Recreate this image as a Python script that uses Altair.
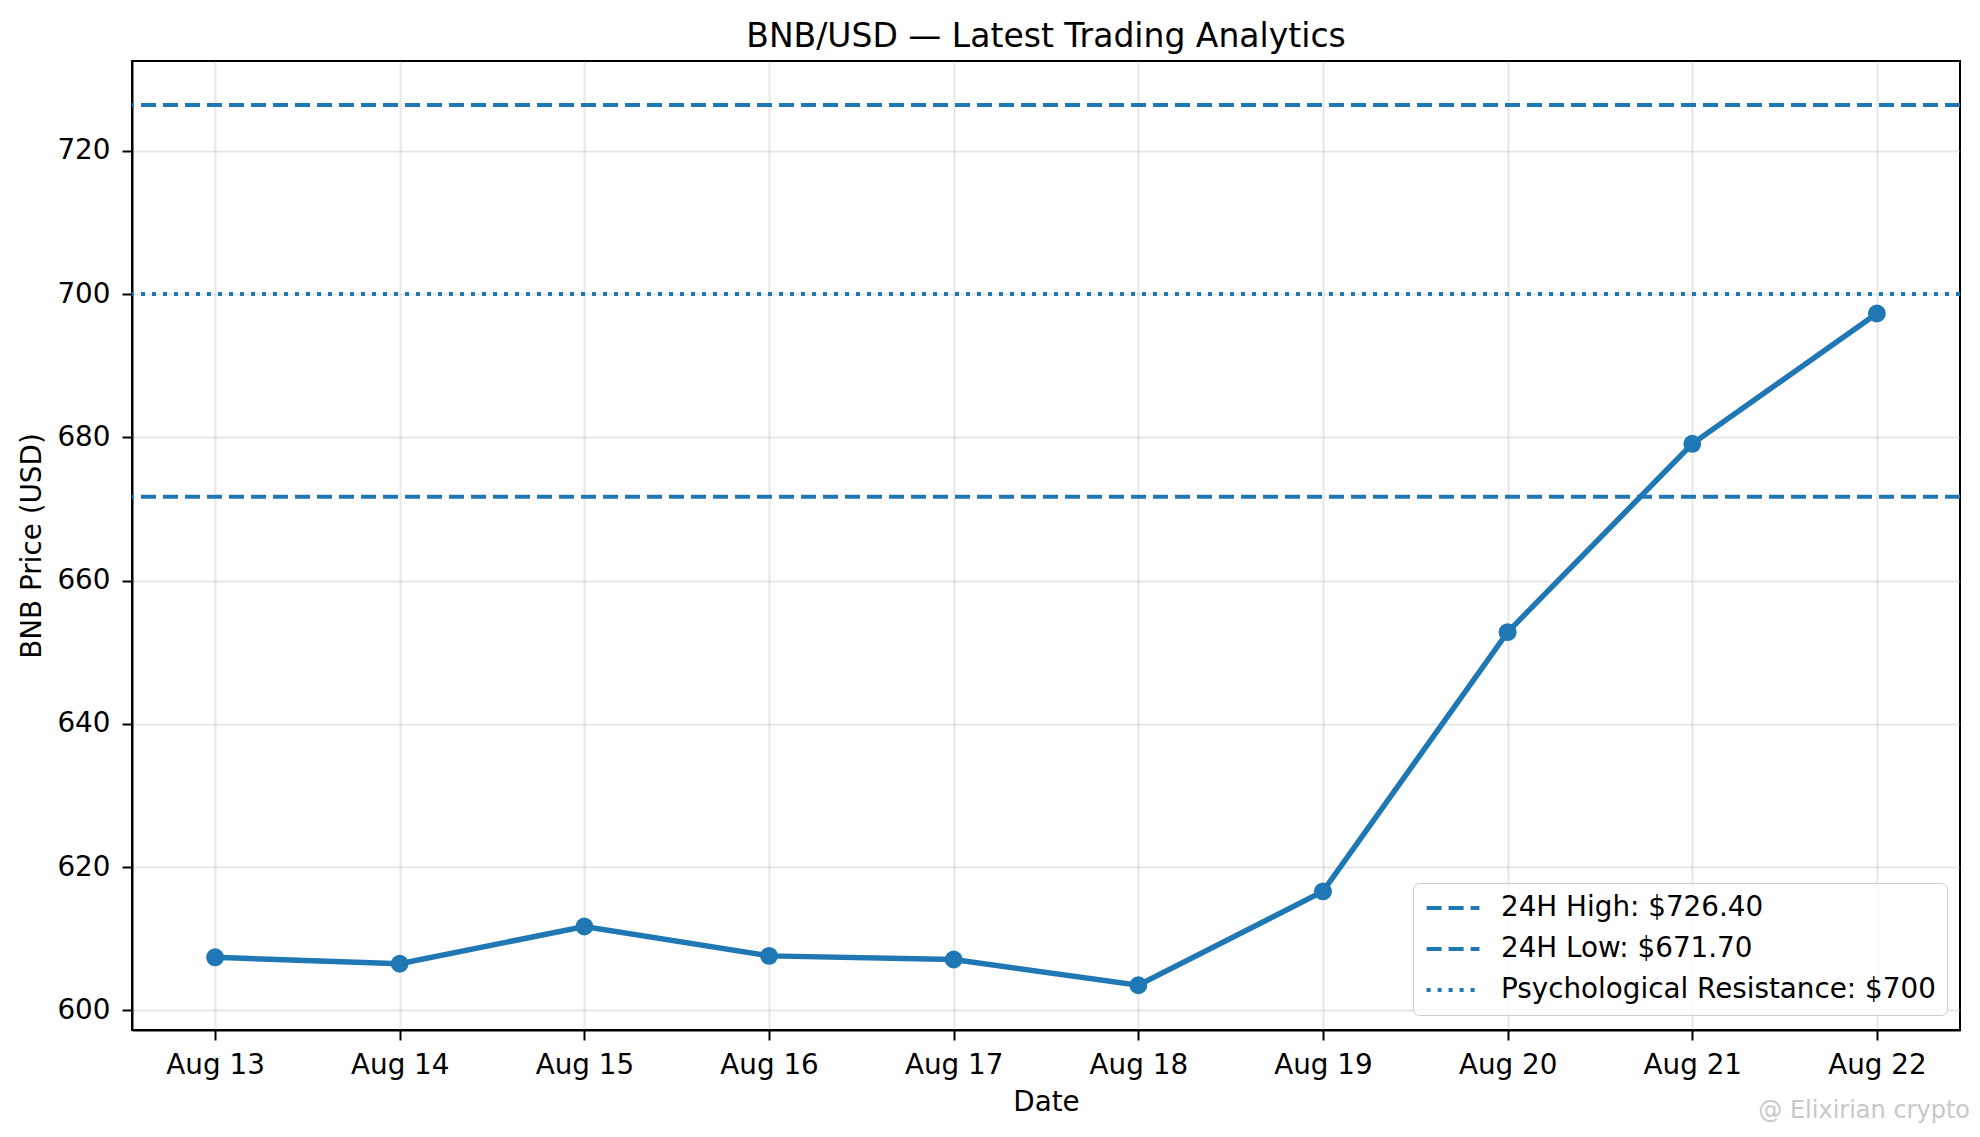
import json
import altair as alt
import pandas as pd

# ---- data ----
day_labels = ["Aug 13", "Aug 14", "Aug 15", "Aug 16", "Aug 17",
              "Aug 18", "Aug 19", "Aug 20", "Aug 21", "Aug 22"]
prices = [607.4, 606.5, 611.7, 607.6, 607.1, 603.5, 616.6, 652.8, 679.1, 697.3]

level_names = ["24H High: $726.40", "24H Low: $671.70", "Psychological Resistance: $700"]
level_values = [726.40, 671.70, 700.0]
level_dashes = [[15, 7], [15, 7], [4, 7]]

BLUE = "#1f77b4"
FONT = "DejaVu Sans"

price_df = pd.DataFrame({"idx": list(range(len(day_labels))), "label": day_labels, "price": prices})
level_df = pd.DataFrame({"name": level_names, "value": level_values})

label_expr = json.dumps(day_labels).replace('"', "'") + "[datum.value]"

x_scale = alt.Scale(domain=[-0.45, len(day_labels) - 1 + 0.45], nice=False, zero=False)
y_scale = alt.Scale(domain=[597.25, 732.55], nice=False, zero=False)

x_axis = alt.Axis(values=list(range(len(day_labels))), labelExpr=label_expr, title="Date",
                  labelPadding=11, titlePadding=10, grid=True)
y_axis = alt.Axis(values=[600, 620, 640, 660, 680, 700, 720], title="BNB Price (USD)",
                  labelPadding=12, titlePadding=10, grid=True)

base = alt.Chart(price_df)

line = base.mark_line(color=BLUE, strokeWidth=5.5).encode(
    x=alt.X("idx:Q", scale=x_scale, axis=x_axis),
    y=alt.Y("price:Q", scale=y_scale, axis=y_axis),
)
points = base.mark_circle(color=BLUE, size=320, opacity=1).encode(
    x=alt.X("idx:Q", scale=x_scale),
    y=alt.Y("price:Q", scale=y_scale),
)

rules = alt.Chart(level_df).mark_rule(strokeWidth=4).encode(
    y=alt.Y("value:Q", scale=y_scale),
    color=alt.Color("name:N", scale=alt.Scale(domain=level_names, range=[BLUE] * 3),
                    legend=alt.Legend(title=None)),
    strokeDash=alt.StrokeDash("name:N", scale=alt.Scale(domain=level_names, range=level_dashes),
                              legend=alt.Legend(title=None)),
)

watermark = alt.Chart(pd.DataFrame({"t": ["@ Elixirian crypto"]})).mark_text(
    align="right", baseline="middle", fontSize=24, color="#c8c8c8", font=FONT
).encode(text="t:N", x=alt.value(1838), y=alt.value(1050))

chart = alt.layer(line, points, rules, watermark).properties(
    width=1828,
    height=969,
    title=alt.Title("BNB/USD — Latest Trading Analytics", fontSize=33, font=FONT,
                    fontWeight="normal", color="black", anchor="middle",
                    baseline="alphabetic", offset=16, dy=35),
    autosize=alt.AutoSizeParams(type="none"),
    padding={"left": 124, "top": 53, "right": 12, "bottom": 108},
).configure_view(
    stroke="black", strokeWidth=2
).configure_axis(
    labelFont=FONT, titleFont=FONT, labelFontSize=27.8, titleFontSize=27.8,
    labelColor="black", titleColor="black", titleFontWeight="normal",
    domainColor="black", domainWidth=2, tickColor="black", tickWidth=2, tickSize=10,
    gridColor="#b0b0b0", gridOpacity=0.3, gridWidth=2,
).configure_legend(
    orient="none", legendX=1281, legendY=822,
    labelFont=FONT, labelFontSize=27.8, labelColor="black", labelLimit=0,
    symbolType="M-2.2,0L2.2,0", symbolSize=576, symbolStrokeWidth=4,
    symbolOffset=15, labelOffset=34, rowPadding=13, padding=11,
    strokeColor="#cccccc", fillColor="rgba(255,255,255,0.8)", cornerRadius=6,
)

chart.save("out.html", embed_options={"renderer": "svg", "actions": False})
